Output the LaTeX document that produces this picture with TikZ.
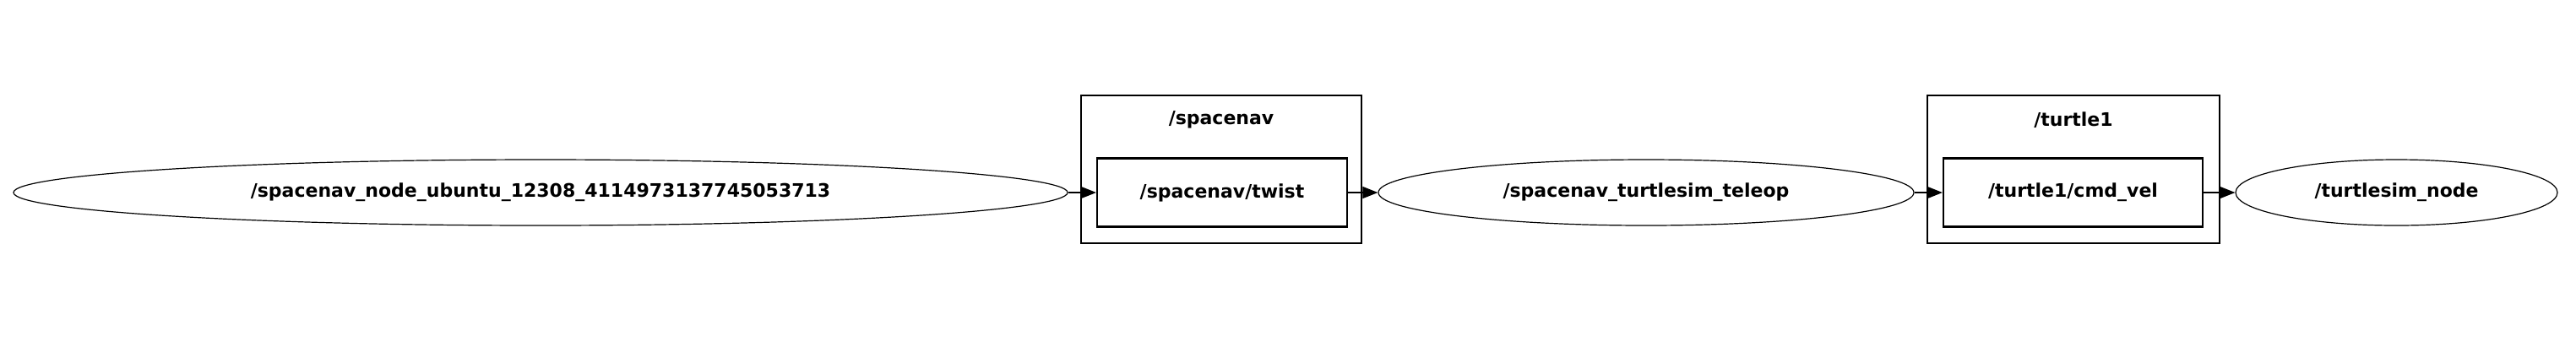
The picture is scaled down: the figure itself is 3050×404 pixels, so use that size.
\documentclass[tikz,border=0pt]{standalone}
\usepackage{fontspec}
\setmainfont{DejaVu Sans}
\usetikzlibrary{arrows.meta,shapes.geometric}
\begin{document}
\begin{tikzpicture}[x=0.5pt,y=-0.5pt,
  lbl/.style={font=\fontsize{11}{13}\selectfont\bfseries},
  topic/.style={draw,line width=1.1pt,inner sep=0},
  cluster/.style={draw,line width=0.6pt},
  nodeell/.style={draw,line width=0.6pt,inner sep=0},
  conn/.style={line width=0.6pt,-{Triangle[length=9pt,width=7pt]}}]
\useasboundingbox (0,0) rectangle (3050,404);
\draw[cluster] (1280,113) rectangle (1612,288);
\node[lbl] (cl1) at (1446,142) {/spacenav};
\draw[cluster] (2282,113) rectangle (2628,288);
\node[lbl] (cl2) at (2455,142) {/turtle1};
\node[nodeell,ellipse,minimum width=624pt,minimum height=39pt,lbl] (n1) at (640,228) {/spacenav\_node\_ubuntu\_12308\_4114973137745053713};
\node[topic,rectangle,minimum width=148pt,minimum height=40.5pt,lbl] (t1) at (1447,228) {/spacenav/twist};
\node[nodeell,ellipse,minimum width=317pt,minimum height=39pt,lbl] (n2) at (1949,228) {/spacenav\_turtlesim\_teleop};
\node[topic,rectangle,minimum width=153.5pt,minimum height=40.5pt,lbl] (t2) at (2454.5,228) {/turtle1/cmd\_vel};
\node[nodeell,ellipse,minimum width=190.5pt,minimum height=39pt,lbl] (n3) at (2837.5,228) {/turtlesim\_node};
\draw[conn] (n1) -- (t1);
\draw[conn] (t1) -- (n2);
\draw[conn] (n2) -- (t2);
\draw[conn] (t2) -- (n3);
\end{tikzpicture}
\end{document}
